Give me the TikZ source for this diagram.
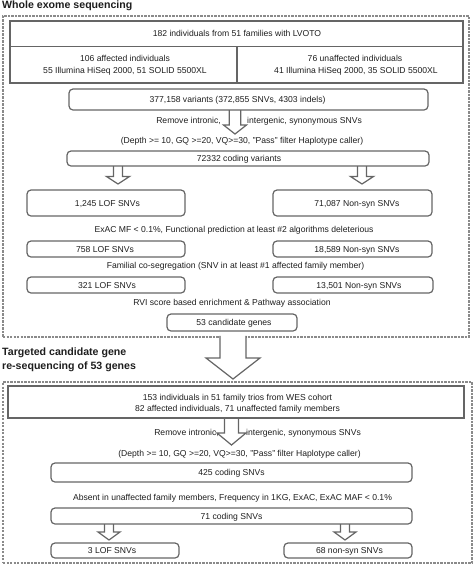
\documentclass[tikz,border=0pt]{standalone}
\usepackage{fontspec}
\setmainfont{Liberation Sans}
\usetikzlibrary{calc}
\definecolor{ln}{HTML}{656565}
\definecolor{dl}{HTML}{8A8A8A}
\definecolor{tx}{HTML}{1E1E1E}
\tikzset{
 txt/.style={inner sep=0, anchor=base, text=tx, font=\fontsize{8.6}{10}\selectfont},
 ttl/.style={inner sep=0, anchor=base west, text=tx, font=\fontsize{10.6}{12}\selectfont\bfseries},
 rbox/.style={draw=ln, line width=1.2pt, rounded corners=4pt, inner sep=0, outer sep=0},
 sbox/.style={draw=ln, line width=1.5pt, inner sep=0, outer sep=0},
 dbox/.style={draw=dl, line width=1.1pt, dash pattern=on 2.2pt off 1.3pt, inner sep=0, outer sep=0},
 arr/.style={draw=ln, line width=1.2pt, line join=miter},
}
% #1 opts, #2 source node, #3 target node, #4 x, #5 shaft half, #6 head half, #7 head length, #8 gap
\newcommand\blockarrow[8][]{%
 \path[arr,#1] let \p1=(#2.south), \p2=(#3.north), \p3=(#4,0) in
   (\x3-#5pt,\y1) -- (\x3-#5pt,\y2+#8pt+#7pt) -- (\x3-#6pt,\y2+#8pt+#7pt) -- (\x3,\y2+#8pt)
   -- (\x3+#6pt,\y2+#8pt+#7pt) -- (\x3+#5pt,\y2+#8pt+#7pt) -- (\x3+#5pt,\y1);
}
\begin{document}
\begin{tikzpicture}[x=1pt,y=-1pt]
\useasboundingbox (0,0) rectangle (474,566);
% ---------- section 1 ----------
\node[ttl] (t1) at (2,8.5) {Whole exome sequencing};
\node[dbox, minimum width=466pt, minimum height=321pt] (wes) at (236,176.5) {};

\node[sbox, minimum width=453pt, minimum height=25.5pt] (row1) at (236.5,33.75) {};
\node[sbox, minimum width=227pt, minimum height=36.5pt] (cellA) at (123.5,64.75) {};
\node[sbox, minimum width=226pt, minimum height=36.5pt] (cellU) at (350,64.75) {};
\node[txt] (r1) at (237,36) {182 individuals from 51 families with LVOTO};
\node[txt] (a1) at (125,61.5) {106 affected individuals};
\node[txt] (a2) at (125,73) {55 Illumina HiSeq 2000, 51 SOLID 5500XL};
\node[txt] (u1) at (355,61.5) {76 unaffected individuals};
\node[txt] (u2) at (356,73) {41 Illumina HiSeq 2000, 35 SOLID 5500XL};

\node[rbox, minimum width=359pt, minimum height=21pt] (v377) at (248.5,99.5) {};
\node[txt] (v377t) at (237.5,102.5) {377,158 variants (372,855 SNVs, 4303 indels)};
\node[txt, anchor=base east] (ri1) at (221,123) {Remove intronic,};
\node[txt, anchor=base west] (ig1) at (247,123) {intergenic, synonymous SNVs};
\node[txt] (dp1) at (242,143) {(Depth >= 10, GQ >=20, VQ>=30, "Pass" filter Haplotype caller)};

\node[rbox, minimum width=362pt, minimum height=15pt] (c72) at (248,158.5) {};
\node[txt] (c72t) at (239,161.5) {72332 coding variants};

\node[rbox, minimum width=158pt, minimum height=26pt] (l1245) at (106,203) {};
\node[txt] (l1245t) at (107.5,206.3) {1,245 LOF SNVs};
\node[rbox, minimum width=159pt, minimum height=26pt] (n71) at (352.5,203) {};
\node[txt] (n71t) at (357,206.3) {71,087 Non-syn SNVs};

\node[txt] (ex) at (234,232) {ExAC MF < 0.1\%, Functional prediction at least \#2 algorithms deleterious};

\node[rbox, minimum width=158pt, minimum height=16pt] (l758) at (106,249) {};
\node[txt] (l758t) at (105,252.2) {758 LOF SNVs};
\node[rbox, minimum width=159pt, minimum height=16pt] (n18) at (352.5,249) {};
\node[txt] (n18t) at (357,252.2) {18,589 Non-syn SNVs};

\node[txt] (fam) at (235.5,268) {Familial co-segregation (SNV in at least \#1 affected family member)};

\node[rbox, minimum width=158pt, minimum height=16pt] (l321) at (106,285) {};
\node[txt] (l321t) at (107,288.2) {321 LOF SNVs};
\node[rbox, minimum width=160pt, minimum height=16pt] (n13) at (353,285) {};
\node[txt] (n13t) at (359,288.2) {13,501 Non-syn SNVs};

\node[txt] (rvi) at (232,305.5) {RVI score based enrichment \& Pathway association};

\node[rbox, minimum width=130pt, minimum height=17pt] (c53) at (232,322.5) {};
\node[txt] (c53t) at (234,325.6) {53 candidate genes};

\blockarrow{v377}{c72}{235}{5.8}{11.5}{9}{17}
\blockarrow{c72}{l1245}{118}{4.5}{11.5}{7.5}{6}
\blockarrow{c72}{n71}{362}{4.5}{11.5}{7.5}{6}

% ---------- section 2 ----------
\node[ttl] (t2a) at (2,355.5) {Targeted candidate gene};
\node[ttl] (t2b) at (2,369) {re-sequencing of 53 genes};
\node[dbox, minimum width=469pt, minimum height=181pt] (tsq) at (237.5,472.5) {};

% big arrow between the two sections
\path[arr, fill=white] let \p1=(wes.south), \p2=(tsq.north), \p3=(233,0) in
  (\x3-13pt,\y1+1.2pt) -- (\x3-13pt,\y2+24pt) -- (\x3-27pt,\y2+24pt) -- (\x3,\y2+3pt)
  -- (\x3+27pt,\y2+24pt) -- (\x3+13pt,\y2+24pt) -- (\x3+13pt,\y1+1.2pt);

\node[sbox, minimum width=456pt, minimum height=32pt] (b153) at (236,402) {};
\node[txt] (s1) at (237.5,400) {153 individuals in 51 family trios from WES cohort};
\node[txt] (s2) at (237.5,411.5) {82 affected individuals, 71 unaffected family members};

\node[txt, anchor=base east] (ri2) at (219,435) {Remove intronic,};
\node[txt, anchor=base west] (ig2) at (246,435) {intergenic, synonymous SNVs};
\node[txt] (dp2) at (239.5,456) {(Depth >= 10, GQ >=20, VQ>=30, "Pass" filter Haplotype caller)};

\node[rbox, minimum width=361pt, minimum height=19pt] (c425) at (231.5,472.5) {};
\node[txt] (c425t) at (231.5,475.6) {425 coding SNVs};

\node[txt] (abs) at (232.5,500) {Absent in unaffected family members, Frequency in 1KG, ExAC, ExAC MAF < 0.1\%};

\node[rbox, minimum width=361pt, minimum height=16pt] (c71) at (231.5,516) {};
\node[txt] (c71t) at (231.5,519.2) {71 coding SNVs};

\node[rbox, minimum width=128pt, minimum height=15pt] (b3) at (115,550.5) {};
\node[txt] (b3t) at (112,553.6) {3 LOF SNVs};
\node[rbox, minimum width=128pt, minimum height=15pt] (b68) at (348,550.5) {};
\node[txt] (b68t) at (349.5,553.6) {68 non-syn SNVs};

\blockarrow{b153}{c425}{231.5}{7}{14.5}{12}{18}
\blockarrow{c71}{b3}{109}{4.5}{11}{8}{3}
\blockarrow{c71}{b68}{345}{4.5}{11}{8}{3}
\end{tikzpicture}
\end{document}
